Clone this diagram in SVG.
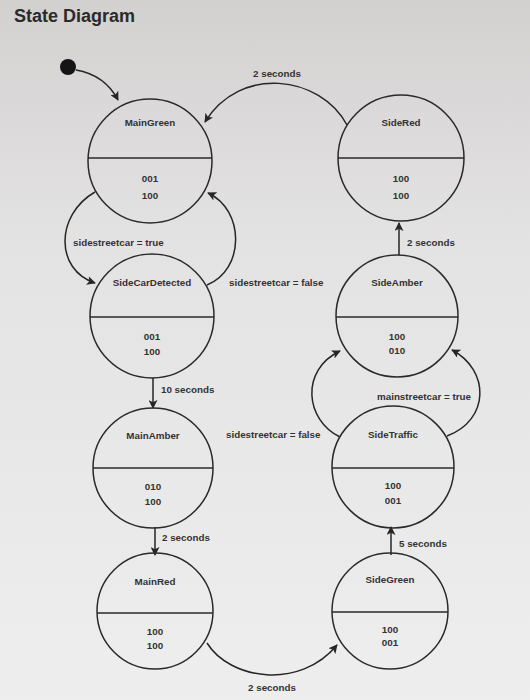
<svg xmlns="http://www.w3.org/2000/svg" width="530" height="700" viewBox="0 0 530 700">
<defs>
<linearGradient id="bg" x1="0" y1="0" x2="0" y2="1">
<stop offset="0" stop-color="#d3d0d0"/>
<stop offset="0.35" stop-color="#e4e3e3"/>
<stop offset="1" stop-color="#eeeeee"/>
</linearGradient>
<marker id="ah" viewBox="0 0 10 10" refX="9" refY="5" markerWidth="9" markerHeight="9" markerUnits="userSpaceOnUse" orient="auto">
<path d="M0,0 L10,5 L0,10 L2.5,5 Z" fill="#262626"/>
</marker>
<style>
.st{fill:none;stroke:#2a2a2a;stroke-width:1.5}
.dv{stroke:#2a2a2a;stroke-width:1.5}
.t{font-family:"Liberation Sans",Arial,sans-serif;font-size:9.8px;font-weight:bold;fill:#333333}
.n{text-anchor:middle}
.c{fill:none;stroke:#262626;stroke-width:1.5;marker-end:url(#ah)}
</style>
</defs>
<rect width="530" height="700" fill="url(#bg)"/>
<text x="14" y="22" font-family="Liberation Sans, Arial, sans-serif" font-size="18" font-weight="bold" fill="#2a2a2a">State Diagram</text>

<g id="start"><circle cx="68" cy="67" r="8" fill="#151515"/></g>

<g id="connectors">
<path class="c" d="M76 70 Q105 75 118 100"/>
<path class="c" d="M347 125 C320 75 240 65 205 122"/>
<path class="c" d="M95 192 C55 215 55 270 95 283"/>
<path class="c" d="M207 285 C245 270 245 210 208 193"/>
<path class="c" d="M153 378 L153 408"/>
<path class="c" d="M155 527 L155 555"/>
<path class="c" d="M207 643 C230 680 300 690 337 645"/>
<path class="c" d="M391 555 L391 527"/>
<path class="c" d="M399 255 L399 223"/>
<path class="c" d="M340 437 C305 420 300 370 340 351"/>
<path class="c" d="M447 436 C490 420 490 370 452 350"/>
<text class="t n" x="277" y="77">2 seconds</text>
<text class="t" x="73" y="246">sidestreetcar = true</text>
<text class="t" x="229" y="286">sidestreetcar = false</text>
<text class="t" x="161" y="393">10 seconds</text>
<text class="t" x="226" y="438">sidestreetcar = false</text>
<text class="t" x="162" y="541">2 seconds</text>
<text class="t n" x="272" y="691">2 seconds</text>
<text class="t" x="399" y="547">5 seconds</text>
<text class="t" x="377" y="400">mainstreetcar = true</text>
<text class="t" x="407" y="246">2 seconds</text>
</g>

<g id="MainGreen">
<circle class="st" cx="150" cy="161" r="62"/>
<line class="dv" x1="88" y1="158" x2="212" y2="158"/>
<text class="t n" x="150" y="126">MainGreen</text>
<text class="t n" x="150" y="182">001</text>
<text class="t n" x="150" y="199">100</text>
</g>
<g id="SideRed">
<circle class="st" cx="401" cy="158" r="63"/>
<line class="dv" x1="338" y1="158" x2="464" y2="158"/>
<text class="t n" x="401" y="126">SideRed</text>
<text class="t n" x="401" y="182">100</text>
<text class="t n" x="401" y="199">100</text>
</g>
<g id="SideCarDetected">
<circle class="st" cx="152" cy="316" r="62"/>
<line class="dv" x1="90" y1="317" x2="214" y2="317"/>
<text class="t n" x="152" y="286">SideCarDetected</text>
<text class="t n" x="152" y="340">001</text>
<text class="t n" x="152" y="355">100</text>
</g>
<g id="SideAmber">
<circle class="st" cx="397" cy="316" r="61"/>
<line class="dv" x1="336" y1="317" x2="458" y2="317"/>
<text class="t n" x="397" y="286">SideAmber</text>
<text class="t n" x="397" y="340">100</text>
<text class="t n" x="397" y="354">010</text>
</g>
<g id="MainAmber">
<circle class="st" cx="153" cy="468" r="60"/>
<line class="dv" x1="93" y1="468" x2="213" y2="468"/>
<text class="t n" x="153" y="439">MainAmber</text>
<text class="t n" x="153" y="490">010</text>
<text class="t n" x="153" y="505">100</text>
</g>
<g id="SideTraffic">
<circle class="st" cx="393" cy="467" r="61"/>
<line class="dv" x1="332" y1="468" x2="454" y2="468"/>
<text class="t n" x="393" y="438">SideTraffic</text>
<text class="t n" x="393" y="489">100</text>
<text class="t n" x="393" y="504">001</text>
</g>
<g id="MainRed">
<circle class="st" cx="155" cy="611" r="58"/>
<line class="dv" x1="97" y1="613" x2="213" y2="613"/>
<text class="t n" x="155" y="585">MainRed</text>
<text class="t n" x="155" y="635">100</text>
<text class="t n" x="155" y="649">100</text>
</g>
<g id="SideGreen">
<circle class="st" cx="390" cy="611" r="58"/>
<line class="dv" x1="332" y1="612" x2="448" y2="612"/>
<text class="t n" x="390" y="583">SideGreen</text>
<text class="t n" x="390" y="633">100</text>
<text class="t n" x="390" y="646">001</text>
</g>
</svg>
